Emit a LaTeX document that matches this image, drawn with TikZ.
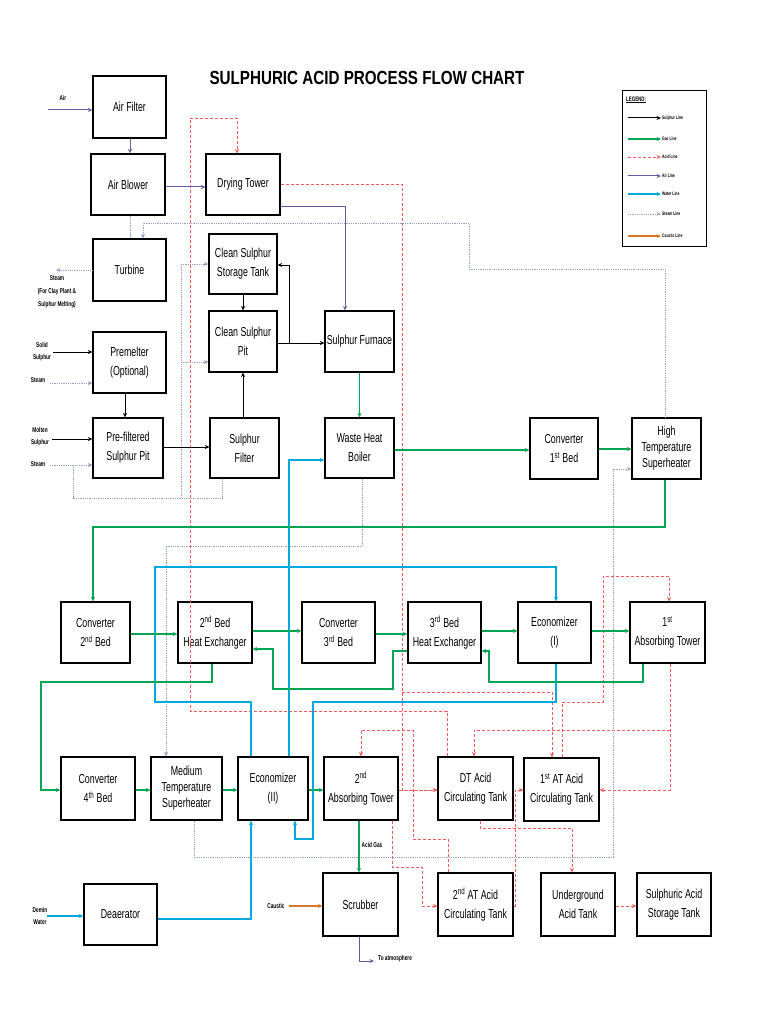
\documentclass[tikz,border=0pt]{standalone}
\usepackage{fontspec}
\setmainfont{Liberation Sans}[FakeStretch=0.68]
\newfontfamily\titlef{Liberation Sans}[FakeStretch=0.8]
\usetikzlibrary{arrows.meta}
\definecolor{cgas}{RGB}{0,166,81}
\definecolor{cacid}{RGB}{245,90,90}
\definecolor{cair}{RGB}{112,88,160}
\definecolor{cwat}{RGB}{0,170,225}
\definecolor{cst}{RGB}{150,160,195}
\definecolor{ccau}{RGB}{215,120,40}
\begin{document}
\begin{tikzpicture}[x=1pt,y=-1pt,
  >={Stealth[length=4.5pt,width=4pt]},
  box/.style={draw,line width=1.2pt,align=center,inner sep=1pt,font=\fontsize{13}{19}\selectfont},
  lbl/.style={align=center,font=\fontsize{7}{12}\selectfont\bfseries,inner sep=0pt},
  sul/.style={black,line width=1pt},
  gas/.style={cgas,line width=1.2pt},
  acid/.style={cacid,line width=0.8pt,dash pattern=on 3pt off 2pt},
  air/.style={cair,line width=1pt},
  water/.style={cwat,line width=1.1pt},
  steam/.style={cst,line width=0.8pt,densely dotted},
  caus/.style={ccau,line width=1.2pt}]
\useasboundingbox (0,0) rectangle (768,1024);
\node[font=\titlef\fontsize{19}{20}\selectfont\bfseries] (title) at (367,78) {SULPHURIC ACID PROCESS FLOW CHART};
% boxes
\node[box,minimum width=73pt,minimum height=62pt] (af) at (129.5,107) {Air Filter};
\node[box,minimum width=74pt,minimum height=61pt] (ab) at (128,184.5) {Air Blower};
\node[box,minimum width=74pt,minimum height=61pt] (dt) at (243,184.5) {Drying Tower};
\node[box,minimum width=73pt,minimum height=62pt] (tu) at (129.5,270) {Turbine};
\node[box,minimum width=68pt,minimum height=60pt] (cst) at (243,264) {Clean Sulphur\\Storage Tank};
\node[box,minimum width=68pt,minimum height=61pt] (csp) at (243,341.5) {Clean Sulphur\\Pit};
\node[box,minimum width=69pt,minimum height=61pt] (sf) at (359.5,341.5) {Sulphur Furnace};
\node[box,minimum width=73pt,minimum height=61pt] (pm) at (129.5,362.5) {Premelter\\(Optional)};
\node[box,minimum width=70pt,minimum height=60pt] (pf) at (128,448) {Pre-filtered\\Sulphur Pit};
\node[box,minimum width=69pt,minimum height=60pt] (sfl) at (244.5,448) {Sulphur\\Filter};
\node[box,minimum width=69pt,minimum height=60pt] (whb) at (359.5,448) {Waste Heat\\Boiler};
\node[box,minimum width=68pt,minimum height=61pt] (c1) at (564,448.5) {Converter\\1\textsuperscript{st} Bed};
\node[box,minimum width=69pt,minimum height=61pt,font=\fontsize{13}{16}\selectfont] (hts) at (666.5,448.5) {High\\Temperature\\Superheater};
\node[box,minimum width=69pt,minimum height=61pt] (c2) at (95.5,632.5) {Converter\\2\textsuperscript{nd} Bed};
\node[box,minimum width=74pt,minimum height=61pt] (hx2) at (215,632.5) {2\textsuperscript{nd} Bed\\Heat Exchanger};
\node[box,minimum width=73pt,minimum height=61pt] (c3) at (338.5,632.5) {Converter\\3\textsuperscript{rd} Bed};
\node[box,minimum width=73pt,minimum height=61pt] (hx3) at (444.5,632.5) {3\textsuperscript{rd} Bed\\Heat Exchanger};
\node[box,minimum width=73pt,minimum height=61pt] (e1) at (554.5,632.5) {Economizer\\(I)};
\node[box,minimum width=75pt,minimum height=61pt] (at1) at (667.5,632.5) {1\textsuperscript{st}\\Absorbing Tower};
\node[box,minimum width=74pt,minimum height=63pt] (c4) at (98,788.5) {Converter\\4\textsuperscript{th} Bed};
\node[box,minimum width=71pt,minimum height=63pt,font=\fontsize{13}{16}\selectfont] (mts) at (186.5,788.5) {Medium\\Temperature\\Superheater};
\node[box,minimum width=70pt,minimum height=63pt] (e2) at (273,788.5) {Economizer\\(II)};
\node[box,minimum width=74pt,minimum height=63pt] (at2) at (361,788.5) {2\textsuperscript{nd}\\Absorbing Tower};
\node[box,minimum width=75pt,minimum height=63pt] (dtt) at (475.5,788.5) {DT Acid\\Circulating Tank};
\node[box,minimum width=75pt,minimum height=63pt] (at1t) at (561.5,789.5) {1\textsuperscript{st} AT Acid\\Circulating Tank};
\node[box,minimum width=73pt,minimum height=61pt] (de) at (120.5,914.5) {Deaerator};
\node[box,minimum width=75pt,minimum height=63pt] (sc) at (360.5,904.5) {Scrubber};
\node[box,minimum width=75pt,minimum height=63pt] (at2t) at (475.5,904.5) {2\textsuperscript{nd} AT Acid\\Circulating Tank};
\node[box,minimum width=74pt,minimum height=63pt] (ut) at (578,904.5) {Underground\\Acid Tank};
\node[box,minimum width=74pt,minimum height=63pt] (sst) at (674,904.5) {Sulphuric Acid\\Storage Tank};
% free-end labels
\node[lbl] (lair) at (63,98) {Air};
\node[lbl,font=\fontsize{7}{13}\selectfont\bfseries] (lst1) at (57,292) {Steam\\(For Clay Plant \&\\Sulphur Melting)};
\node[lbl] (lsol) at (42,352) {Solid\\Sulphur};
\node[lbl] (lst2) at (38,380) {Steam};
\node[lbl] (lmol) at (40,437) {Molten\\Sulphur};
\node[lbl] (lst3) at (38,464) {Steam};
\node[lbl] (ldem) at (40,916) {Demin\\Water};
\node[lbl] (lcau) at (276,906) {Caustic};
\node[lbl] (lag) at (372,845) {Acid Gas};
\node[lbl,anchor=west] (latm) at (378,959) {To atmosphere};
% ---------- acid
\draw[acid,->] (dtt.north -| 447,0) |- (190,711) |- (237,118) -- (dt.north -| 237,0);
\draw[acid,->] (dt.east |- 0,184) -| (402,790) -- (dtt.west |- 0,790);
\draw[acid,->] (402,692) -| (at1t.north -| 552,0);
\draw[acid,->] (at2.east |- 0,790) -- (dtt.west |- 0,790);
\draw[acid,->] (at2t.north -| 448,0) |- (413,839) |- (361,730) -- (at2.north -| 361,0);
\draw[acid,->] (at2.south -| 392,0) |- (422,867) |- (at2t.west |- 0,906);
\draw[acid,->] (at2t.east |- 0,906) -| (515,790) -- (at1t.west |- 0,790);
\draw[acid,->] (dtt.south -| 480,0) |- (572,828) -- (ut.north -| 572,0);
\draw[acid,->] (ut.east |- 0,906) -- (sst.west |- 0,906);
\draw[acid,->] (at1.south -| 670,0) |- (at1t.east |- 0,790);
\draw[acid,->] (670,730) -| (dtt.north -| 474,0);
\draw[acid,->] (at1t.north -| 562,0) |- (603,702) |- (669,576) -- (at1.north -| 669,0);
% ---------- steam
\draw[steam,->] (hts.north -| 665,0) |- (469,269) |- (143,223) -- (tu.north -| 143,0);
\draw[steam] (ab.south -| 130,0) -- (tu.north -| 130,0);
\draw[steam,->] (tu.west) -- (56,270);
\draw[steam,->] (50,383) -- (pm.west |- 0,383);
\draw[steam,->] (50,465) -- (pf.west |- 0,465);
\draw[steam] (73,465) |- (222,498) -- (sfl.south -| 222,0);
\draw[steam,->] (181,498) |- (cst.west |- 0,264);
\draw[steam,->] (181,362) -- (csp.west |- 0,362);
\draw[steam,->] (whb.south -| 362,0) |- (166,546) -- (mts.north -| 166,0);
\draw[steam,->] (mts.south -| 194,0) |- (613,857) |- (hts.west |- 0,469);
% ---------- water
\draw[water,->] (de.east |- 0,919) -| (e2.south -| 251,0);
\draw[water,->] (e2.north -| 251,0) |- (155,702) |- (556,567) -- (e1.north -| 556,0);
\draw[water,->] (e2.north -| 289,0) |- (whb.west |- 0,460);
\draw[water,->] (e1.south -| 556,0) |- (313,702) |- (295,839) -- (e2.south -| 295,0);
\draw[water,->] (47,916) -- (de.west |- 0,916);
% ---------- gas
\draw[gas,->] (sf.south) -- (whb.north);
\draw[gas,->] (whb.east |- 0,450) -- (c1.west |- 0,450);
\draw[gas,->] (c1.east |- 0,449) -- (hts.west |- 0,449);
\draw[gas,->] (hts.south -| 665,0) |- (93,527) -- (c2.north -| 93,0);
\draw[gas,->] (c2.east |- 0,634) -- (hx2.west |- 0,634);
\draw[gas,->] (hx2.east |- 0,631) -- (c3.west |- 0,631);
\draw[gas,->] (c3.east |- 0,634) -- (hx3.west |- 0,634);
\draw[gas,->] (hx3.east |- 0,631) -- (e1.west |- 0,631);
\draw[gas,->] (e1.east |- 0,631) -- (at1.west |- 0,631);
\draw[gas,->] (hx3.west |- 0,651) -| (393,689) -| (273,649) -- (hx2.east |- 0,649);
\draw[gas,->] (at1.south -| 643,0) |- (489,682) |- (hx3.east |- 0,651);
\draw[gas,->] (hx2.south -| 212,0) |- (41,682) |- (c4.west |- 0,790);
\draw[gas,->] (c4.east |- 0,790) -- (mts.west |- 0,790);
\draw[gas,->] (mts.east |- 0,790) -- (e2.west |- 0,790);
\draw[gas,->] (e2.east |- 0,790) -- (at2.west |- 0,790);
\draw[gas,->] (at2.south -| 359,0) -- (sc.north -| 359,0);
% ---------- sulphur
\draw[sul,->] (53,352) -- (pm.west |- 0,352);
\draw[sul,->] (52,439) -- (pf.west |- 0,439);
\draw[sul,->] (pm.south -| 125,0) -- (pf.north -| 125,0);
\draw[sul,->] (pf.east |- 0,447) -- (sfl.west |- 0,447);
\draw[sul,->] (sfl.north -| 243,0) -- (csp.south -| 243,0);
\draw[sul,->] (cst.south -| 243,0) -- (csp.north -| 243,0);
\draw[sul,->] (csp.east |- 0,343) -- (sf.west |- 0,343);
\draw[sul,->] (289,343) |- (cst.east |- 0,265);
% ---------- air
\draw[air,->] (48,110) -- (af.west |- 0,110);
\draw[air,->] (af.south -| 130,0) -- (ab.north -| 130,0);
\draw[air,->] (ab.east |- 0,187) -- (dt.west |- 0,187);
\draw[air,->] (dt.east |- 0,207) -| (sf.north -| 345,0);
\draw[air,->] (sc.south -| 359,0) |- (374,961);
% ---------- caustic
\draw[caus,->] (289,906) -- (sc.west |- 0,906);
% ---------- legend
\node[draw,line width=1pt,minimum width=84pt,minimum height=155pt] (leg) at (664,168.5) {};
\node[font=\fontsize{6.5}{7}\selectfont\bfseries,anchor=west,inner sep=0pt] (legt) at (626,100) {\underline{LEGEND:}};
\foreach \y/\s/\t in {118/sul/Sulphur Line,139/gas/Gas Line,157/acid/Acid Line,176/air/Air Line,194/water/Water Line,214/steam/Steam Line,236/caus/Caustic Line}{
  \draw[\s,->] (628,\y) -- (661,\y);
  \node[font=\fontsize{5}{6}\selectfont\bfseries,anchor=west,inner sep=0pt] at (662,\y) {\t};
}
\end{tikzpicture}
\end{document}
